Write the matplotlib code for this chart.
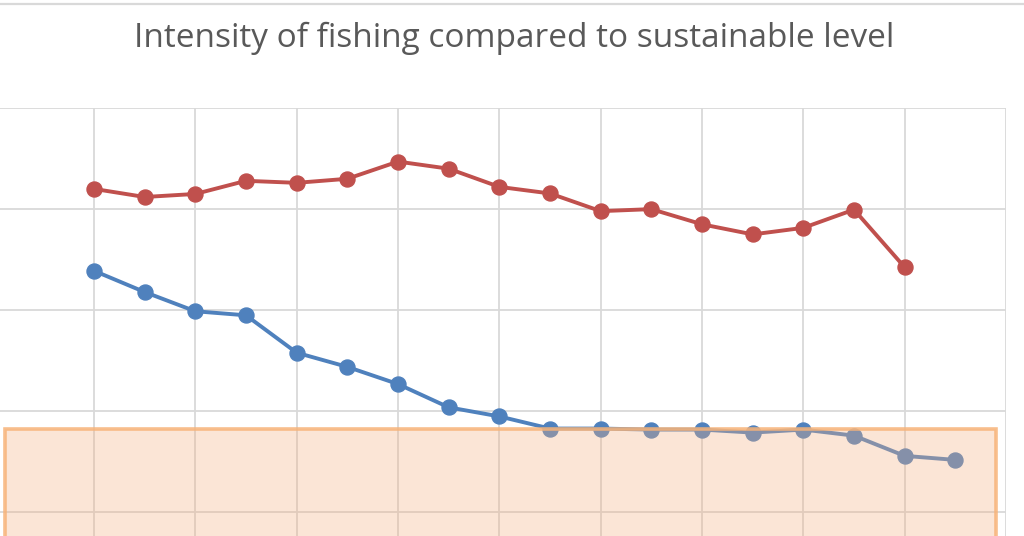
import numpy as np
import matplotlib
matplotlib.use("Agg")
import matplotlib.pyplot as plt
from matplotlib.patches import Rectangle
from matplotlib.lines import Line2D

# ---- data (arbitrary units, gridline = 1) ----
years = np.arange(18)
red_vals = [3.20, 3.12, 3.15, 3.28, 3.26, 3.30, 3.47, 3.40, 3.22, 3.155,
            2.98, 3.00, 2.85, 2.75, 2.815, 2.995, 2.425]
blue_vals = [2.39, 2.18, 1.99, 1.95, 1.58, 1.44, 1.27, 1.04, 0.95, 0.83,
             0.83, 0.82, 0.82, 0.79, 0.82, 0.76, 0.56, 0.52]
sustainable = 0.83
title = "Intensity of fishing compared to sustainable level"

red = "#C0504D"
blue = "#4F81BD"
grid_c = "#D9D9D9"

fig = plt.figure(figsize=(10.24, 5.36), dpi=100)
# plot area runs off the left and bottom of the picture
ax = fig.add_axes([0, 0, 1006/1024, 1 - 108/536])
ax.set_xlim(-94/50.67, 18)
ax.set_ylim(-23.5/101.1, 4)

ax.set_xticks(np.arange(0, 19, 2))
ax.set_yticks(np.arange(0, 5, 1))
ax.grid(True, color=grid_c, lw=1.3)
ax.tick_params(length=0, labelbottom=False, labelleft=False)
for s in ax.spines.values():
    s.set_visible(False)
ax.set_axisbelow(True)

ax.plot(years[:len(red_vals)], red_vals, color=red, lw=2.8, marker="o",
        ms=10.8, zorder=3, clip_on=False)
ax.plot(years[:len(blue_vals)], blue_vals, color=blue, lw=2.8, marker="o",
        ms=10.8, zorder=3, clip_on=False)

# shaded "below sustainable" box laid over the lines
box = Rectangle((-1.757, -1), 17.80 + 1.757, sustainable + 1,
                facecolor=(0.957, 0.694, 0.514, 0.33),
                edgecolor=(0.97, 0.70, 0.47, 0.85), lw=2.6, zorder=4)
ax.add_patch(box)

fig.add_artist(Line2D([0, 1], [1 - 4/536]*2, transform=fig.transFigure,
                      color=grid_c, lw=1.6))
fig.text(0.502, 1 - 38/536, title, ha="center", va="center",
         fontsize=24, color="#595959", family="Open Sans")

fig.savefig("out.png", dpi=100)
